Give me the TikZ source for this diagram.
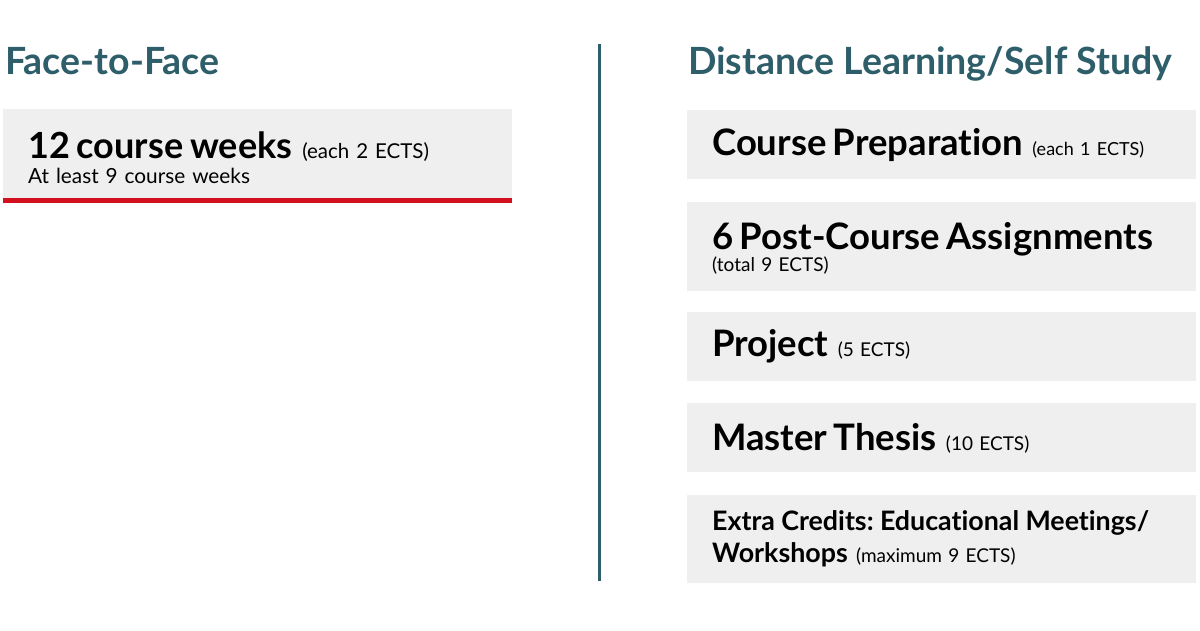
\documentclass[tikz,border=0pt]{standalone}
\usepackage{fontspec}
\setmainfont{Lato}[Ligatures=NoCommon]
\usepackage{tikz}
\usetikzlibrary{positioning}

\definecolor{headteal}{HTML}{2E5E69}
\definecolor{boxgray}{HTML}{EFEFEF}
\definecolor{barred}{HTML}{D2101E}

\frenchspacing
\begin{document}
\begin{tikzpicture}[x=1pt, y=-1pt, node distance=22pt,
    heading/.style={anchor=base west, inner sep=0pt, text=headteal,
        font=\fontsize{37.5}{42}\selectfont\bfseries},
    box/.style={fill=boxgray, minimum width=509pt, text width=459pt,
        inner xsep=25pt, inner ysep=0pt, align=left,
        font=\fontsize{19}{22}\selectfont},
    redbar/.style={draw=barred, line width=5pt},
    divider/.style={draw=headteal, line width=3.5pt}]
    \useasboundingbox (0,0) rectangle (1200,630);

    % Headings
    \node [heading] (f2f)  at (5,74)   {Face-to-Face};
    \node [heading] (dist) at (688,74) {Distance Learning/Self Study};

    % Left column
    \node [box, minimum height=89pt, anchor=north west, font=\fontsize{20.8}{25}\selectfont] (weeks) at (3,109)
        {\rule{0pt}{34pt}{\fontsize{36}{36}\selectfont\bfseries 12 course weeks}\hspace{3pt} {\fontsize{20.5}{20}\selectfont (each 2 ECTS)}\\
         At least 9 course weeks};
    \draw [redbar] ([yshift=-2.5pt]weeks.south west) -- ([yshift=-2.5pt]weeks.south east);

    % Right column
    \node [box, minimum height=69pt, anchor=north west] (prep) at (687,110)
        {{\fontsize{36.5}{36}\selectfont\bfseries Course Preparation}\hspace{3pt} {\fontsize{18}{20}\selectfont (each 1 ECTS)}};
    \node [box, minimum height=89pt] (assign)  [below=of prep]
        {\rule{0pt}{31pt}{\fontsize{36.5}{36}\selectfont\bfseries 6 Post-Course Assignments}\\ (total 9 ECTS)};
    \node [box, minimum height=69pt] (project) [below=21pt of assign]
        {{\fontsize{36.5}{36}\selectfont\bfseries Project}\hspace{3pt} (5 ECTS)};
    \node [box, minimum height=69pt] (thesis)  [below=of project]
        {{\fontsize{36.5}{36}\selectfont\bfseries Master Thesis}\hspace{3pt} (10 ECTS)};
    \node [box, minimum height=88pt, font=\fontsize{19}{32}\selectfont] (extra) [below=of thesis]
        {{\fontsize{26.8}{32}\selectfont\bfseries Extra Credits: Educational Meetings/\\ Workshops}\hspace{2pt} (maximum 9 ECTS)};

    % Divider
    \coordinate (divtop) at (599.5,44);
    \coordinate (divbot) at (599.5,581);
    \path [divider] (divtop) -- (divbot);
\end{tikzpicture}
\end{document}
